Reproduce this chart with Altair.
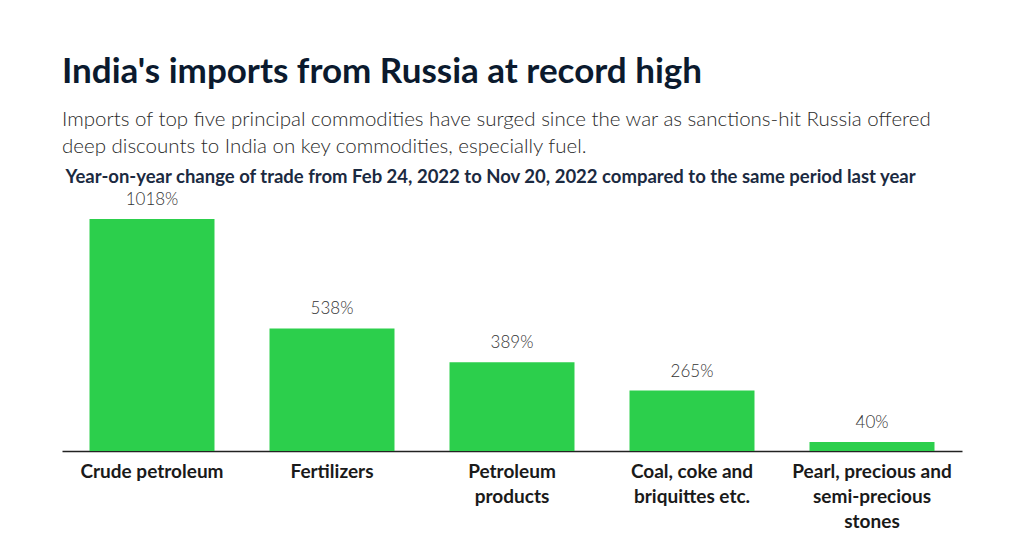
import json
import altair as alt
import pandas as pd

categories = ["Crude petroleum", "Fertilizers", "Petroleum products",
              "Coal, coke and briquittes etc.", "Pearl, precious and semi-precious stones"]
label_lines = [["Crude petroleum"], ["Fertilizers"], ["Petroleum", "products"],
               ["Coal, coke and", "briquittes etc."], ["Pearl, precious and", "semi-precious", "stones"]]
changes = [1018, 538, 389, 265, 40]
value_labels = ["1018%", "538%", "389%", "265%", "40%"]

title_text = "India's imports from Russia at record high"
subtitle_lines = [
    "Imports of top five principal commodities have surged since the war as sanctions-hit Russia offered",
    "deep discounts to India on key commodities, especially fuel.",
]
measure_title = "Year-on-year change of trade from Feb 24, 2022 to Nov 20, 2022 compared to the same period last year"

df = pd.DataFrame({"category": categories, "change": changes, "label": value_labels})
mapping = json.dumps(dict(zip(categories, label_lines)))

base = alt.Chart(df).encode(
    x=alt.X(
        "category:N", sort=categories,
        scale=alt.Scale(paddingInner=0.3056, paddingOuter=0.1528),
        axis=alt.Axis(
            title=None, labelAngle=0, labelExpr=f"{mapping}[datum.value]",
            labelFont="Lato", labelFontWeight="bold", labelFontSize=19,
            labelColor="#1a1a1a", labelPadding=11, labelLineHeight=25,
            domainColor="#222222", domainWidth=1.5, ticks=False,
        ),
    ),
    y=alt.Y(
        "change:Q", scale=alt.Scale(domain=[0, 1018], nice=False),
        axis=alt.Axis(
            title=measure_title, titleAngle=0, titleAlign="left", titleBaseline="middle",
            titleX=3, titleY=-43, labels=False, ticks=False, domain=False, grid=False,
            titleFont="Lato", titleFontWeight="bold", titleFontSize=18.5, titleColor="#1b2a41",
        ),
    ),
)

bars = base.mark_bar(color="#2ccf4c")
texts = base.mark_text(baseline="middle", dy=-19, font="Lato", fontSize=17,
                       fontWeight=300, color="#333333").encode(text="label:N")

chart = (bars + texts).properties(
    width=900, height=232,
    title=alt.TitleParams(
        text=title_text, subtitle=subtitle_lines, anchor="start",
        font="Lato", fontSize=35, fontWeight="bold", color="#0b1a2e",
        subtitleFont="Lato", subtitleFontWeight=300, subtitleFontSize=20.5,
        subtitleColor="#2a2a2a", subtitleLineHeight=27, subtitlePadding=20, offset=10,
    ),
    autosize=alt.AutoSizeParams(type="none"),
    padding={"left": 62, "top": 219, "right": 62, "bottom": 93},
    background="white",
).configure_view(stroke=None)

chart.save("out.html", embed_options={"renderer": "svg", "actions": False})
